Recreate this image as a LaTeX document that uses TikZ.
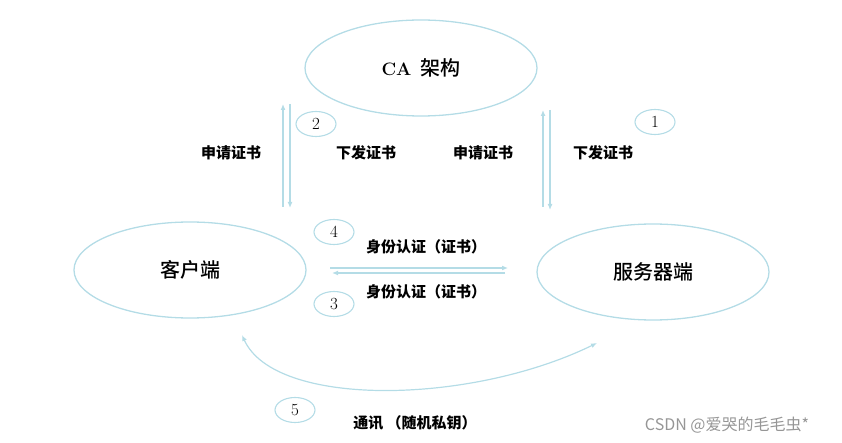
\documentclass[tikz,border=0pt]{standalone}
\usepackage{fontspec}
\newfontfamily\cjk{Noto Sans CJK SC}
\newfontfamily\cjkmed{Noto Sans CJK SC Medium}
\usetikzlibrary{arrows.meta, positioning, shapes.geometric}
\definecolor{linecol}{RGB}{180,220,230}
\definecolor{markcol}{RGB}{150,150,150}

\begin{document}
\begin{tikzpicture}[x=1pt, y=-1pt,
    party/.style={ellipse, draw=linecol, line width=1.3pt, minimum width=232pt, minimum height=96pt, font=\cjkmed\fontsize{20}{22}\selectfont},
    badge/.style={ellipse, draw=linecol, line width=1.1pt, minimum width=40pt, minimum height=25pt, inner sep=0pt, font=\fontsize{17}{19}\selectfont},
    lbl/.style={font=\cjk\bfseries\fontsize{15}{17}\selectfont, #1},
    lbl/.default={black},
    arrow/.style={-{Latex[length=6pt, width=5pt]}, line width=1.2pt, draw=linecol, #1},
    arrow/.default={}
]
\useasboundingbox (0,0) rectangle (842,443);

% === PARTES ===
\node[party] (ca) at (421,68) {{\rmfamily\bfseries\fontsize{18}{20}\selectfont CA}\ \ 架构};
\node[party] (client) at (190,270) {客户端};
\node[party] (server) at (653,272) {服务器端};

% === NUMEROS ===
\node[badge] (n1) at (655,122) {1};
\node[badge] (n2) at (316,124) {2};
\node[badge] (n4) at (334,232) {4};
\node[badge] (n3) at (334,304) {3};
\node[badge] (n5) at (295,410) {5};

% === TEXTOS ===
\node[lbl] (req1) at (231,153) {申请证书};
\node[lbl] (iss1) at (366,153) {下发证书};
\node[lbl] (req2) at (483,153) {申请证书};
\node[lbl] (iss2) at (603,153) {下发证书};
\node[lbl] (auth1) at (426,247) {身份认证（证书）};
\node[lbl] (auth2) at (426,292) {身份认证（证书）};
\node[lbl] (comm) at (415,423) {通讯 （随机私钥）};
\node[font=\cjk\fontsize{16}{18}\selectfont, text=markcol] (mark) at (727,425) {CSDN @爱哭的毛毛虫*};

% === PUNTOS ===
\coordinate (lu0) at (283,207); \coordinate (lu1) at (283,104);
\coordinate (ld0) at (290,104); \coordinate (ld1) at (290,208);
\coordinate (ru0) at (543,207); \coordinate (ru1) at (543,110);
\coordinate (rd0) at (550,110); \coordinate (rd1) at (550,210);
\coordinate (hr0) at (330,268); \coordinate (hr1) at (508,268);
\coordinate (hl0) at (505,273); \coordinate (hl1) at (332,273);
\coordinate (cv0) at (242,335); \coordinate (cv1) at (597,343);

% === FLECHAS ===
\draw[arrow] (lu0) -- (lu1);
\draw[arrow] (ld0) -- (ld1);
\draw[arrow] (ru0) -- (ru1);
\draw[arrow] (rd0) -- (rd1);
\draw[arrow] (hr0) -- (hr1);
\draw[arrow] (hl0) -- (hl1);
\draw[arrow={{Latex[length=6pt, width=5pt]}-{Latex[length=6pt, width=5pt]}}] (cv0) .. controls (275,408) and (470,405) .. (cv1);

\end{tikzpicture}
\end{document}
